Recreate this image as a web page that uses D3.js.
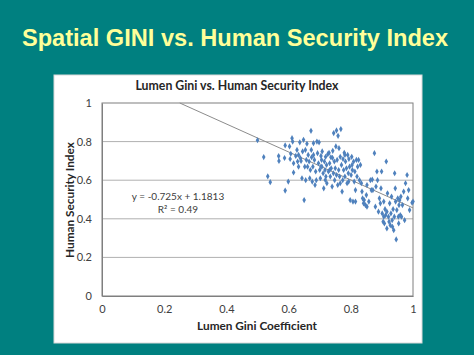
<!DOCTYPE html>
<html><head><meta charset="utf-8">
<script src="https://cdn.jsdelivr.net/npm/d3@7"></script>
<style>html,body{margin:0;padding:0;background:#008080;}svg{display:block;}</style>
</head><body>
<script>
const slideTitle = "Spatial GINI vs. Human Security Index";
const chartTitle = "Lumen Gini vs. Human Security Index";
const xTitle = "Lumen Gini Coefficient";
const yTitle = "Human Security Index";
const xTicks = [0, 0.2, 0.4, 0.6, 0.8, 1];
const yTicks = [0, 0.2, 0.4, 0.6, 0.8, 1];
const slope = -0.725, intercept = 1.1813;
const equationLines = ["y = -0.725x + 1.1813", "R² = 0.49"];
const giniValues = [0.50,0.52,0.533,0.541,0.568,0.569,0.589,0.587,0.589,0.599,0.603,0.605,0.607,0.611,0.613,0.616,0.623,0.627,0.629,0.632,0.636,0.638,0.640,0.643,0.645,0.648,0.650,0.652,0.654,0.655,0.657,0.659,0.661,0.663,0.666,0.668,0.670,0.672,0.673,0.674,0.676,0.678,0.680,0.683,0.685,0.687,0.689,0.691,0.693,0.696,0.698,0.70,0.702,0.704,0.706,0.707,0.708,0.711,0.713,0.715,0.717,0.719,0.720,0.722,0.723,0.726,0.728,0.730,0.732,0.734,0.736,0.737,0.740,0.742,0.744,0.745,0.747,0.748,0.750,0.752,0.754,0.756,0.758,0.759,0.761,0.762,0.764,0.766,0.768,0.770,0.772,0.774,0.775,0.777,0.779,0.781,0.783,0.786,0.788,0.790,0.792,0.794,0.796,0.798,0.801,0.803,0.805,0.807,0.809,0.811,0.813,0.815,0.818,0.820,0.822,0.825,0.828,0.831,0.836,0.838,0.841,0.843,0.847,0.850,0.852,0.858,0.863,0.866,0.869,0.871,0.876,0.879,0.881,0.884,0.886,0.889,0.892,0.895,0.897,0.899,0.901,0.904,0.906,0.908,0.910,0.912,0.914,0.916,0.918,0.921,0.923,0.925,0.927,0.929,0.931,0.934,0.936,0.938,0.940,0.941,0.943,0.944,0.946,0.948,0.951,0.953,0.955,0.957,0.959,0.961,0.963,0.966,0.970,0.973,0.976,0.981,0.983,0.986,0.989,0.997,1.0,0.616,0.632,0.680,0.704,0.718,0.732,0.741,0.754,0.766,0.781,0.793,0.804,0.815,0.834,0.852,0.906,0.933,0.916,0.954];
const hsiValues = [0.807,0.72,0.62,0.59,0.725,0.70,0.78,0.715,0.546,0.593,0.775,0.71,0.737,0.818,0.80,0.688,0.726,0.757,0.697,0.731,0.796,0.714,0.70,0.61,0.749,0.809,0.497,0.67,0.757,0.60,0.705,0.789,0.67,0.731,0.697,0.61,0.653,0.856,0.757,0.719,0.593,0.67,0.792,0.705,0.575,0.645,0.60,0.80,0.74,0.688,0.796,0.653,0.61,0.726,0.705,0.67,0.749,0.636,0.558,0.697,0.653,0.721,0.619,0.679,0.584,0.735,0.645,0.742,0.688,0.619,0.719,0.662,0.567,0.752,0.636,0.844,0.697,0.60,0.662,0.775,0.858,0.705,0.575,0.83,0.653,0.766,0.619,0.721,0.865,0.679,0.541,0.60,0.71,0.653,0.742,0.619,0.697,0.662,0.584,0.731,0.636,0.71,0.67,0.497,0.627,0.721,0.653,0.489,0.697,0.593,0.645,0.489,0.705,0.619,0.67,0.705,0.60,0.679,0.541,0.506,0.48,0.497,0.471,0.523,0.463,0.489,0.60,0.549,0.603,0.549,0.74,0.463,0.567,0.645,0.60,0.437,0.506,0.48,0.558,0.645,0.428,0.385,0.489,0.376,0.45,0.419,0.697,0.437,0.532,0.411,0.385,0.48,0.367,0.428,0.515,0.359,0.45,0.341,0.411,0.636,0.558,0.489,0.293,0.445,0.506,0.411,0.471,0.497,0.419,0.515,0.411,0.471,0.541,0.393,0.584,0.627,0.506,0.549,0.445,0.483,0.489,0.64,0.67,0.731,0.67,0.601,0.653,0.716,0.627,0.584,0.731,0.593,0.679,0.549,0.584,0.575,0.411,0.393,0.350,0.376];

const W = 474, H = 355;
const svg = d3.select("body").append("svg").attr("width", W).attr("height", H);
svg.append("rect").attr("width", W).attr("height", H).attr("fill", "#008080");
svg.append("text").attr("x", 235).attr("y", 46).attr("text-anchor", "middle")
  .attr("font-family", "Liberation Sans, Arial, sans-serif").attr("font-weight", "bold")
  .attr("font-size", 23.6).attr("fill", "#FFFF99").text(slideTitle);

// white chart panel
svg.append("rect").attr("x", 54).attr("y", 75).attr("width", 368).attr("height", 268)
  .attr("fill", "#ffffff").attr("stroke", "#d9d9d9").attr("stroke-width", 1);

const m = {l: 102, r: 413, t: 103, b: 296};
const x = d3.scaleLinear().domain([0, 1]).range([m.l, m.r]);
const y = d3.scaleLinear().domain([0, 1]).range([m.b, m.t]);
const font = "Lato, 'Open Sans', sans-serif";

// gridlines
svg.append("g").selectAll("line").data(yTicks.filter(d => d > 0 && d < 1)).join("line")
  .attr("x1", m.l).attr("x2", m.r).attr("y1", d => y(d)).attr("y2", d => y(d))
  .attr("stroke", "#b0b0b0").attr("stroke-width", 1);

// plot border
svg.append("rect").attr("x", m.l).attr("y", m.t).attr("width", m.r - m.l).attr("height", m.b - m.t)
  .attr("fill", "none").attr("stroke", "#7f7f7f").attr("stroke-width", 1);

// axes
const xAxis = svg.append("g").attr("transform", `translate(0,${m.b})`)
  .call(d3.axisBottom(x).tickValues(xTicks).tickFormat(d3.format("")).tickSize(0).tickPadding(9));
const yAxis = svg.append("g").attr("transform", `translate(${m.l},0)`)
  .call(d3.axisLeft(y).tickValues(yTicks).tickFormat(d3.format("")).tickSize(0).tickPadding(10));
[xAxis, yAxis].forEach(g => {
  g.select(".domain").attr("stroke", "#7f7f7f");
  g.selectAll("text").attr("font-family", font).attr("font-size", 11).attr("fill", "#404040");
});

// trendline
const x0 = (1 - intercept) / slope;
svg.append("line").attr("x1", x(x0)).attr("y1", y(slope * x0 + intercept))
  .attr("x2", x(1)).attr("y2", y(slope * 1 + intercept))
  .attr("stroke", "#8c8c8c").attr("stroke-width", 1);

// points
const pts = giniValues.map((g, i) => ({g, h: hsiValues[i]}));
svg.append("g").selectAll("path").data(pts).join("path")
  .attr("transform", d => `translate(${x(d.g)},${y(d.h)})`)
  .attr("d", d3.symbol(d3.symbolDiamond, 11))
  .attr("fill", "#4F81BD");

// equation
svg.append("g").selectAll("text").data(equationLines).join("text")
  .attr("x", 178).attr("y", (d, i) => 200 + i * 12.5).attr("text-anchor", "middle")
  .attr("font-family", font).attr("font-size", 10).attr("fill", "#404040").text(d => d);

// titles
svg.append("text").attr("x", 237).attr("y", 90).attr("text-anchor", "middle")
  .attr("font-family", font).attr("font-weight", "bold").attr("font-size", 12.3).attr("fill", "#262626").text(chartTitle);
svg.append("text").attr("x", 257).attr("y", 330).attr("text-anchor", "middle")
  .attr("font-family", font).attr("font-weight", "bold").attr("font-size", 11.8).attr("fill", "#262626").text(xTitle);
svg.append("text").attr("transform", `translate(74,200) rotate(-90)`).attr("text-anchor", "middle")
  .attr("font-family", font).attr("font-weight", "bold").attr("font-size", 11.8).attr("fill", "#262626").text(yTitle);
</script>
</body></html>
